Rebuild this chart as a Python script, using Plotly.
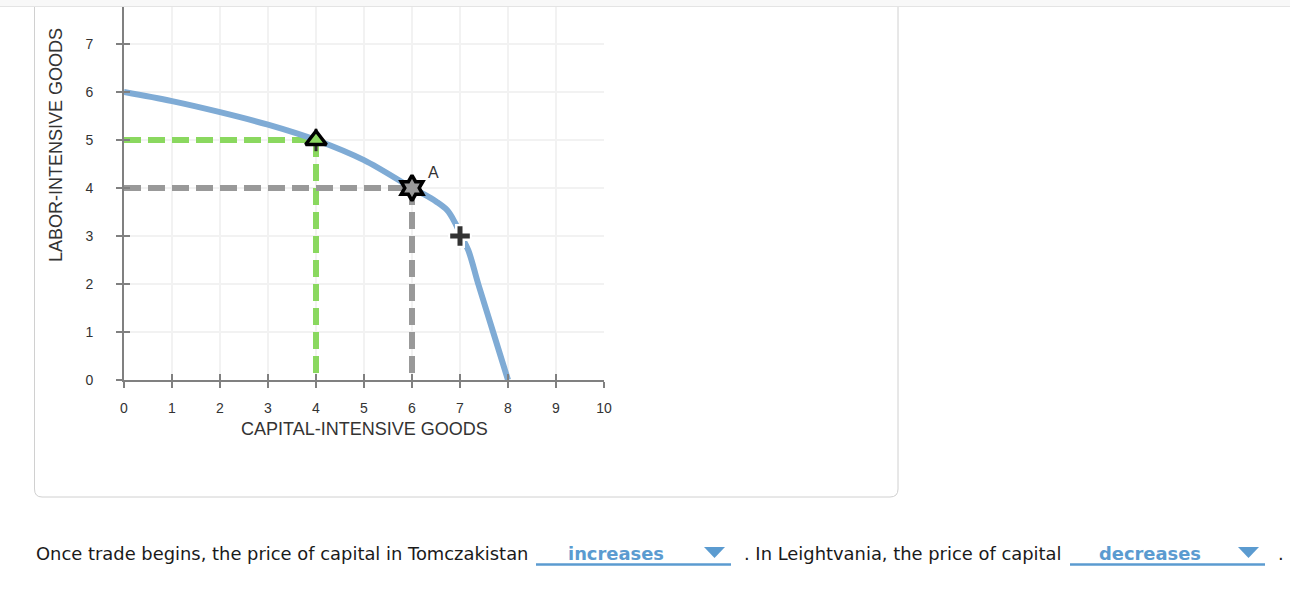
# plot.py
import plotly.graph_objects as go

W, H = 1290, 590

# data
curve_x = [0, 1, 2, 3, 4, 5, 6, 6.23, 6.5, 6.73, 6.9, 7, 7.17, 7.38, 7.69, 8]
curve_y = [6, 5.81, 5.58, 5.32, 5.0, 4.58, 4.0, 3.88, 3.72, 3.54, 3.27, 3.05, 2.71, 2.0, 1.0, 0]
green_x = [0, 4, 4]
green_y = [5, 5, 0]
grey_x = [0, 6, 6]
grey_y = [4, 4, 0]
x_ticks = list(range(0, 11))
y_ticks = list(range(0, 8))

FONT = "Liberation Sans"
TEXT_FONT = "DejaVu Sans"
BLUE = "#5b9bd0"


def px(x):
    return x / W


def py(y):
    return 1 - y / H


def page_text(x, y, text, anchor="left", color="#1a1a1a", bold=False):
    label = f"<b>{text}</b>" if bold else text
    return dict(x=px(x), y=py(y), xref="paper", yref="paper", text=label, showarrow=False,
                xanchor=anchor, yanchor="middle",
                font=dict(family=TEXT_FONT, size=17.9, color=color))


def triangle_path(x0, x1, y0, y1):
    mid = (x0 + x1) / 2
    return f"M {px(x0)} {py(y0)} L {px(x1)} {py(y0)} L {px(mid)} {py(y1)} Z"


fig = go.Figure()

# dashed guides
fig.add_trace(go.Scatter(x=green_x, y=green_y, mode="lines",
                         line=dict(color="#8ad85f", width=6, dash="17px,7px")))
fig.add_trace(go.Scatter(x=grey_x, y=grey_y, mode="lines",
                         line=dict(color="#999999", width=6, dash="17px,7px")))

# production possibilities curve
fig.add_trace(go.Scatter(x=curve_x, y=curve_y, mode="lines",
                         line=dict(color="#7fabd5", width=6, shape="spline", smoothing=1)))

# points
fig.add_trace(go.Scatter(x=[7], y=[3], mode="markers",
                         marker=dict(symbol="cross-thin", size=17, line=dict(color="white", width=10))))
fig.add_trace(go.Scatter(x=[7], y=[3], mode="markers",
                         marker=dict(symbol="cross-thin", size=14, line=dict(color="#333333", width=5))))
fig.add_trace(go.Scatter(x=[4], y=[5], mode="markers",
                         marker=dict(symbol="line-ns", size=16, line=dict(color="#333333", width=3))))
fig.add_trace(go.Scatter(x=[4], y=[5], mode="markers",
                         marker=dict(symbol="triangle-up", size=18, color="#8ad85f",
                                     line=dict(color="black", width=3.5))))
fig.add_trace(go.Scatter(x=[6], y=[4], mode="markers",
                         marker=dict(symbol="hexagram", size=19, color="#999999",
                                     line=dict(color="black", width=3.5))))

# second axis pair only carries the inner half of the ticks
fig.add_trace(go.Scatter(x=[0], y=[0], xaxis="x2", yaxis="y2", mode="markers",
                         marker=dict(opacity=0), hoverinfo="skip"))

axis_style = dict(showline=True, linecolor="#808080", linewidth=2, ticks="outside", ticklen=6,
                  tickwidth=1.5, tickcolor="#808080", gridcolor="#f2f2f2", gridwidth=2,
                  zeroline=False, fixedrange=True, automargin=False,
                  tickfont=dict(family=FONT, size=14, color="#333333"))
inner_style = dict(showline=False, showgrid=False, zeroline=False, ticks="inside", ticklen=6,
                   tickwidth=1.5, tickcolor="#808080", showticklabels=False, fixedrange=True,
                   automargin=False)
x_domain = [px(124), px(604)]
y_domain = [py(380), py(7)]
x_range = [0, 10]
y_range = [0, 373 / 48]

shapes = [
    # top strip of the page
    dict(type="rect", xref="paper", yref="paper", x0=0, x1=1, y0=py(6), y1=1,
         fillcolor="#f8f8f8", line=dict(width=0), layer="below"),
    dict(type="line", xref="paper", yref="paper", x0=0, x1=1, y0=py(6.5), y1=py(6.5),
         line=dict(color="#e4e4e4", width=1), layer="below"),
    # card outline, its top is cut off by the strip
    dict(type="path", xref="paper", yref="paper", layer="below",
         path=(f"M {px(34.5)} {py(7)} L {px(34.5)} {py(489)} "
               f"Q {px(34.5)} {py(497)} {px(42)} {py(497)} "
               f"L {px(890)} {py(497)} Q {px(898)} {py(497)} {px(898)} {py(489)} "
               f"L {px(898)} {py(7)}"),
         line=dict(color="#d0d0d0", width=1)),
    # dropdowns
    dict(type="line", xref="paper", yref="paper", x0=px(536), x1=px(731), y0=py(564.5), y1=py(564.5),
         line=dict(color=BLUE, width=2.5)),
    dict(type="line", xref="paper", yref="paper", x0=px(1070), x1=px(1265), y0=py(564.5), y1=py(564.5),
         line=dict(color=BLUE, width=2.5)),
    dict(type="path", xref="paper", yref="paper", path=triangle_path(704, 725, 547, 558),
         fillcolor=BLUE, line=dict(width=0)),
    dict(type="path", xref="paper", yref="paper", path=triangle_path(1238, 1259, 547, 558),
         fillcolor=BLUE, line=dict(width=0)),
]

annotations = [
    dict(x=6, y=4, xref="x", yref="y", text="A", showarrow=False, xshift=21, yshift=16,
         font=dict(family=FONT, size=16, color="#333333")),
    dict(x=px(364.5), y=py(429), xref="paper", yref="paper", text="CAPITAL-INTENSIVE GOODS",
         showarrow=False, xanchor="center", yanchor="middle",
         font=dict(family=FONT, size=18, color="#333333")),
    dict(x=px(56), y=py(145), xref="paper", yref="paper", text="LABOR-INTENSIVE GOODS",
         showarrow=False, textangle=-90, xanchor="center", yanchor="middle",
         font=dict(family=FONT, size=18, color="#333333")),
    page_text(34, 553, "Once trade begins, the price of capital in Tomczakistan"),
    page_text(616, 553, "increases", anchor="center", color=BLUE, bold=True),
    page_text(742, 553, ". In Leightvania, the price of capital"),
    page_text(1150, 553, "decreases", anchor="center", color=BLUE, bold=True),
    page_text(1276, 553, "."),
]

fig.update_layout(
    template="none",
    width=W, height=H, margin=dict(l=0, r=0, t=0, b=0, pad=0), showlegend=False,
    paper_bgcolor="white", plot_bgcolor="white", hovermode=False,
    xaxis=dict(domain=x_domain, range=x_range, tickvals=x_ticks, ticklabelstandoff=8, **axis_style),
    yaxis=dict(domain=y_domain, range=y_range, tickvals=y_ticks, ticklabelstandoff=20, **axis_style),
    xaxis2=dict(domain=x_domain, range=x_range, tickvals=x_ticks, anchor="y2", overlaying="x", **inner_style),
    yaxis2=dict(domain=y_domain, range=y_range, tickvals=y_ticks, anchor="x2", overlaying="y", **inner_style),
    shapes=shapes, annotations=annotations,
)

fig.write_html("out.html", config=dict(displayModeBar=False),
               post_script="document.body.style.margin='0';document.body.style.overflow='hidden';")
